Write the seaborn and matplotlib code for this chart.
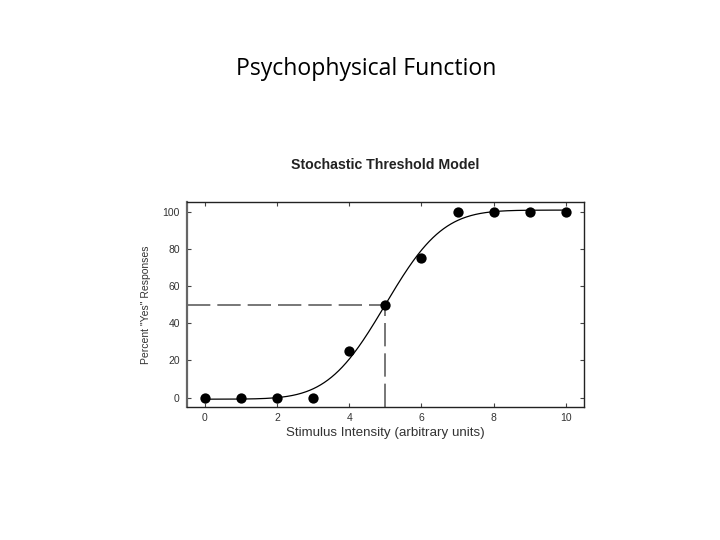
import math
import numpy as np
import pandas as pd
import matplotlib
matplotlib.use("Agg")
import matplotlib.pyplot as plt
import seaborn as sns

# ---- data ----
intensity = [0, 1, 2, 3, 4, 5, 6, 7, 8, 9, 10]
percent_yes = [0, 0, 0, 0, 25, 50, 75, 100, 100, 100, 100]
x_ticks = [0, 2, 4, 6, 8, 10]
y_ticks = [0, 20, 40, 60, 80, 100]
threshold = 5.0          # 50% point of the fitted model
fit_sigma = 1.25         # spread of the fitted cumulative-normal model
fit_floor = -0.8
fit_ceiling = 100.8

sns.set_theme(style="ticks")
plt.rcParams['font.family'] = ['Liberation Sans', 'DejaVu Sans']

fig = plt.figure(figsize=(7.2, 5.4), dpi=100)
fig.patch.set_facecolor("white")
ax = fig.add_axes([0.2593, 0.2463, 0.5518, 0.3791])

# fitted model curve
xs = np.linspace(intensity[0], intensity[-1], 400)
ys = [fit_floor + (fit_ceiling - fit_floor) * 0.5 * (1 + math.erf((x - threshold) / (fit_sigma * math.sqrt(2)))) for x in xs]
curve = pd.DataFrame({"x": xs, "y": ys})
sns.lineplot(data=curve, x="x", y="y", ax=ax, color="black", linewidth=0.9)

# threshold guide lines
ax.plot([-0.5, threshold], [50, 50], color="#777777", linewidth=1.4, dashes=(12, 3.6))
ax.plot([threshold, threshold], [-5, 50], color="#777777", linewidth=1.4, dashes=(12, 3.6))

# data points
pts = pd.DataFrame({"x": intensity, "y": percent_yes})
sns.scatterplot(data=pts, x="x", y="y", ax=ax, color="black", s=55, edgecolor="black", linewidth=0, zorder=5)

ax.set_xlim(-0.5, 10.5)
ax.set_ylim(-5, 105)
ax.set_xticks(x_ticks)
ax.set_yticks(y_ticks)
ax.tick_params(direction="in", length=3, width=0.8, colors="#444444", labelsize=7.5,
               top=True, right=True, labelcolor="#333333")
ax.tick_params(axis="x", pad=4)
ax.tick_params(axis="y", pad=5)
for side in ["top", "right", "bottom"]:
    ax.spines[side].set_color("#222222")
    ax.spines[side].set_linewidth(1.0)
ax.spines["left"].set_color("#666666")
ax.spines["left"].set_linewidth(1.6)

ax.set_xlabel("Stimulus Intensity (arbitrary units)", fontsize=9.6, color="#333333", labelpad=3)
ax.set_ylabel("Percent \"Yes\" Responses", fontsize=7.5, color="#333333", labelpad=8)

fig.text(0.535, 1 - 165 / 540, "Stochastic Threshold Model", ha="center", va="center",
         fontsize=10.2, fontweight="bold", color="#222222")
fig.text(0.508, 1 - 69 / 540, "Psychophysical Function", ha="center", va="center",
         fontsize=16.6, color="black", family=["Open Sans", "DejaVu Sans"])

fig.savefig("out.png", dpi=100, facecolor="white")
